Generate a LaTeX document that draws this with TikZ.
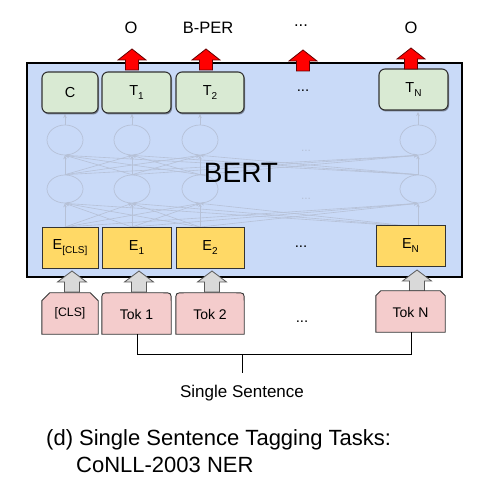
\documentclass[tikz,border=0pt]{standalone}
\usepackage{fontspec}
\setmainfont{Liberation Sans}
\usetikzlibrary{calc,shapes.geometric,arrows.meta,shadows}
\definecolor{bertblue}{HTML}{C9DAF8}
\definecolor{tgreen}{HTML}{D9EAD3}
\definecolor{eyellow}{HTML}{FFD966}
\definecolor{tpink}{HTML}{F4CCCC}
\definecolor{agray}{HTML}{D9D9D9}
\definecolor{faintc}{HTML}{B6C1D7}
\definecolor{darkline}{HTML}{333333}
\newcommand{\fs}[1]{\fontsize{#1}{#1}\selectfont}
\newcommand{\subx}[2]{#1\raisebox{-0.5ex}{\fs{10}#2}}
\begin{document}
\begin{tikzpicture}[x=1pt,y=-1pt,
  greenbox/.style={draw=darkline, line width=1.1, fill=tgreen, rounded corners=6,
    minimum height=41, inner sep=0, font=\fs{14.5},
    drop shadow={shadow xshift=1pt, shadow yshift=-1.5pt, fill=black, opacity=0.4}},
  ebox/.style={draw=darkline, line width=0.9, fill=eyellow, minimum height=41, inner sep=0, font=\fs{14.5}},
  tokbox/.style={minimum height=41, inner sep=0, font=\fs{14}},
  tokline/.style={draw=darkline, line width=0.9, fill=tpink},
  faintnode/.style={ellipse, draw=faintc, line width=0.7, minimum width=36, minimum height=30, inner sep=0},
  faintarr/.style={draw=faintc, line width=0.6, -{Stealth[length=4pt,width=3.5pt]}},
  lbl/.style={font=\fs{16.5}, inner sep=0, anchor=base},
  redarrow/.pic={\draw[fill=red, draw=black!60!red, line width=0.8]
     (0,0) -- (14,11) -- (6.5,11) -- (6.5,21) -- (-6.5,21) -- (-6.5,11) -- (-14,11) -- cycle;},
  grayarrow/.pic={\draw[fill=agray, draw=black!65, line width=0.8]
     (0,0) -- (14.5,11) -- (7.5,11) -- (7.5,21) -- (-7.5,21) -- (-7.5,11) -- (-14.5,11) -- cycle;}
]
\useasboundingbox (0,0) rectangle (493,489);
% main BERT box
\node[draw=black, line width=2.4, fill=bertblue, minimum width=435, minimum height=214, inner sep=0] (bert) at (244.5,170) {};
% faint network
\node[faintnode] (u1) at (65,140) {};
\node[faintnode] (u2) at (132,140) {};
\node[faintnode] (u3) at (200,140) {};
\node[faintnode] (u4) at (418,140) {};
\node[faintnode, minimum height=28] (l1) at (65,189) {};
\node[faintnode, minimum height=28] (l2) at (132,189) {};
\node[faintnode, minimum height=28] (l3) at (200,189) {};
\node[faintnode, minimum height=28] (l4) at (418,189) {};
\coordinate (b1) at (65,227);
\coordinate (b2) at (132,227);
\coordinate (b3) at (200,227);
\coordinate (b4) at (418,227);
\coordinate (g1) at (65,114);
\coordinate (g2) at (132,114);
\coordinate (g3) at (200,114);
\coordinate (g4) at (418,112);
\foreach \i in {1,...,4}{
  \foreach \j in {1,...,4}{
    \draw[faintarr] (l\i.north) -- (u\j.south);
    \draw[faintarr] (b\i) -- (l\j.south);
  }
  \draw[faintarr] (u\i.north) -- (g\i);
}
\node[font=\fs{12}, text=faintc, inner sep=0, anchor=base] (fd1) at (306,152) {...};
\node[font=\fs{12}, text=faintc, inner sep=0, anchor=base] (fd2) at (306,200) {...};
\node[font=\fs{28}, inner sep=0, anchor=base] (berttxt) at (241,183) {BERT};
% top row
\node[greenbox, minimum width=56] (c) at (70,92.5) {C};
\node[greenbox, minimum width=69] (t1) at (136.5,92.5) {\subx{T}{1}};
\node[greenbox, minimum width=68] (t2) at (210,92.5) {\subx{T}{2}};
\node[greenbox, minimum width=69] (tn) at (413.5,89.5) {\subx{T}{N}};
\node[lbl, font=\fs{15}] (tdots) at (303,92) {...};
% embeddings
\node[ebox, minimum width=56] (ecls) at (70,247.5) {\subx{E}{[CLS]}};
\node[ebox, minimum width=69] (e1) at (136.5,247.5) {\subx{E}{1}};
\node[ebox, minimum width=68] (e2) at (210,247.5) {\subx{E}{2}};
\node[ebox, minimum width=69] (en) at (410.5,245.5) {\subx{E}{N}};
\node[lbl, font=\fs{15}] (edots) at (301,248) {...};
% red output arrows
\pic at (132,49) {redarrow};
\pic at (206,49) {redarrow};
\pic at (303,50) {redarrow};
\pic at (411,48) {redarrow};
\node[lbl] (o1) at (131,34) {O};
\node[lbl] (bper) at (208,34) {B-PER};
\node[lbl] (odots) at (301,27) {...};
\node[lbl] (on) at (411,34) {O};
% gray input arrows
\pic at (72,271) {grayarrow};
\pic at (139,271) {grayarrow};
\pic at (212,271) {grayarrow};
\pic at (417,270) {grayarrow};
% tokens
\node[tokbox, minimum width=56] (tcls) at (70,313.5) {};
\node[tokbox, minimum width=69] (tok1) at (136.5,313.5) {};
\node[tokbox, minimum width=68] (tok2) at (210,313.5) {};
\node[tokbox, minimum width=69] (tokn) at (410.5,311.5) {};
\draw[tokline] (tcls.south west) -- ($(tcls.north west)+(0,8)$) -- ($(tcls.north west)+(8,0)$)
  -- ($(tcls.north east)+(-8,0)$) -- ($(tcls.north east)+(0,8)$) -- (tcls.south east) -- cycle;
\draw[tokline] (tokn.south west) -- ($(tokn.north west)+(0,5)$) -- ($(tokn.north west)+(5,0)$)
  -- ($(tokn.north east)+(-5,0)$) -- ($(tokn.north east)+(0,5)$) -- (tokn.south east) -- cycle;
\foreach \t in {tok1,tok2}{
  \draw[tokline] (\t.south west) -- ($(\t.north west)+(0,8)$) .. controls (\t.north west) .. ($(\t.north west)+(8,0)$)
    -- ($(\t.north east)+(-8,0)$) .. controls (\t.north east) .. ($(\t.north east)+(0,8)$) -- (\t.south east) -- cycle;
}
\node[font=\fs{12.3}] at (tcls) {[CLS]};
\node[font=\fs{14}] at ($(tok1)+(0,1)$) {Tok 1};
\node[font=\fs{14}] at ($(tok2)+(0,1)$) {Tok 2};
\node[font=\fs{14}] at ($(tokn)+(0,1)$) {Tok N};
\node[lbl, font=\fs{15}] (tkdots) at (302,323) {...};
% bracket
\coordinate (bl) at (137,354);
\coordinate (br) at (411,354);
\coordinate (bm) at (242,354);
\coordinate (bs) at (242,373);
\draw[line width=1, black] ($(tok1.south)+(0.5,0)$) |- (bl) -- (br) -- (br |- tokn.south);
\draw[line width=1, black] (bm) -- (bs);
\node[lbl, font=\fs{17}] (single) at (242,397) {Single Sentence};
% caption
\node[font=\fs{22}, inner sep=0, anchor=base west] (cap1) at (46,445) {(d) Single Sentence Tagging Tasks:};
\node[font=\fs{22}, inner sep=0, anchor=base west] (cap2) at (76,472) {CoNLL-2003 NER};
\end{tikzpicture}
\end{document}
